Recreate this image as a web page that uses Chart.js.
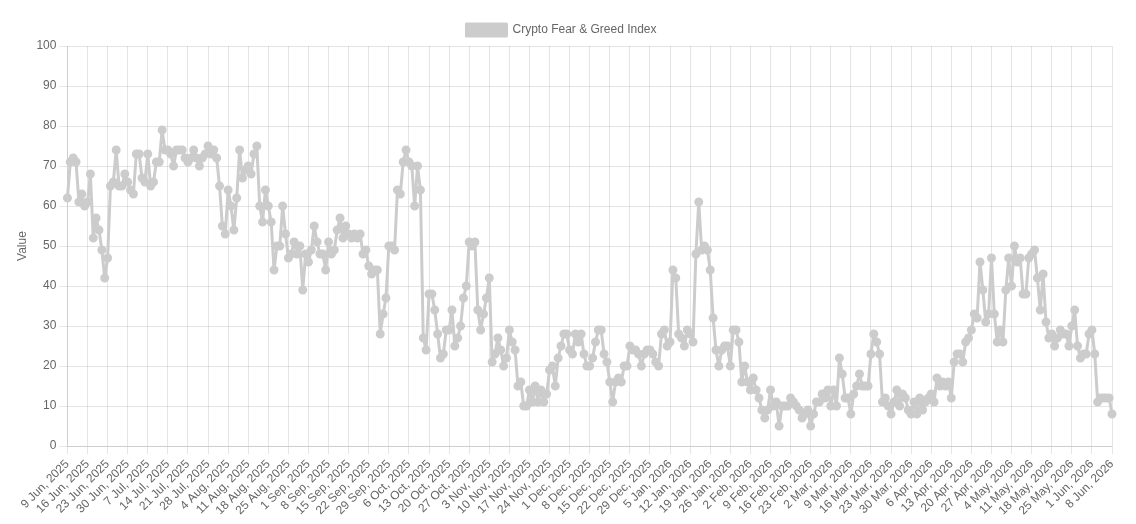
<!DOCTYPE html>
<html>
<head>
<meta charset="utf-8">
<script src="https://cdn.jsdelivr.net/npm/chart.js@4.4.0/dist/chart.umd.min.js"></script>
<style>
  html, body { margin: 0; padding: 0; background: #fff; }
  .chart-wrap { position: relative; width: 1136px; height: 524px; }
</style>
</head>
<body>
<div class="chart-wrap"><canvas id="chart"></canvas></div>
<script>
// daily readings, 9 Jun 2025 .. 8 Jun 2026
const startDate = new Date(2025, 5, 9);
const monthNames = ['Jan','Feb','Mar','Apr','May','Jun','Jul','Aug','Sep','Oct','Nov','Dec'];

const fearGreedValues = [
  62,71,72,71,61,63,60,61,68,52,57,54,49,42,47,65,66,74,65,65,68,66,64,63,73,73,67,66,73,65,66,71,71,79,74,74,
  73,70,74,74,74,72,71,72,74,72,70,72,73,75,73,74,72,65,55,53,64,60,54,62,74,67,69,70,68,73,75,60,56,64,60,56,44,
  50,50,60,53,47,48,51,48,50,39,48,46,49,55,51,48,48,44,51,48,49,54,57,52,55,53,52,53,52,53,48,49,45,43,44,44,
  28,33,37,50,50,49,64,63,71,74,71,70,60,70,64,27,24,38,38,34,28,22,23,29,29,34,25,27,30,37,40,51,50,51,34,29,33,
  37,42,21,23,27,24,20,22,29,26,24,15,16,10,10,14,11,15,11,14,11,13,19,20,15,22,25,28,28,24,23,28,26,28,23,20,20,
  22,26,29,29,23,21,16,11,16,17,16,20,20,25,24,24,23,20,23,24,24,23,21,20,28,29,25,26,44,42,28,27,25,29,28,26,48,
  61,49,50,49,44,32,24,20,24,25,25,20,29,29,26,16,20,16,14,17,14,12,9,7,9,14,10,11,5,10,10,10,12,11,10,9,7,
  8,9,5,8,11,11,13,12,14,10,14,10,22,18,12,12,8,13,15,18,15,15,15,23,28,26,23,11,12,10,8,11,14,10,13,
  12,9,8,11,8,12,9,11,12,13,11,17,15,16,15,16,12,21,23,23,21,26,27,29,33,32,46,39,31,33,47,33,26,29,26,39,47,
  40,50,46,47,38,38,47,48,49,42,34,43,31,27,28,25,27,29,28,28,25,30,34,25,22,23,23,28,29,23,11,12,12,12,12,8
];

const dayLabels = fearGreedValues.map((v, i) => {
  const d = new Date(startDate.getFullYear(), startDate.getMonth(), startDate.getDate() + i);
  return d.getDate() + ' ' + monthNames[d.getMonth()] + ', ' + d.getFullYear();
});

const yTicks = { min: 0, max: 100, step: 10 };

const grey = 'rgb(204, 204, 204)';

new Chart(document.getElementById('chart'), {
  type: 'line',
  data: {
    labels: dayLabels,
    datasets: [{
      label: 'Crypto Fear & Greed Index',
      data: fearGreedValues,
      borderColor: grey,
      backgroundColor: grey,
      borderWidth: 3,
      borderJoinStyle: 'round',
      pointRadius: 3,
      pointBackgroundColor: grey,
      pointBorderColor: grey,
      tension: 0
    }]
  },
  options: {
    responsive: true,
    maintainAspectRatio: false,
    animation: false,
    layout: { padding: { left: 11, top: 14, right: 24, bottom: 3 } },
    plugins: {
      legend: { display: true },
      tooltip: { enabled: false }
    },
    scales: {
      x: {
        ticks: {
          autoSkip: false,
          maxRotation: 45,
          minRotation: 45,
          callback: function (value, index) {
            return index % 7 === 0 ? this.getLabelForValue(value) : null;
          }
        }
      },
      y: {
        min: yTicks.min,
        max: yTicks.max,
        ticks: { stepSize: yTicks.step },
        title: { display: true, text: 'Value' }
      }
    }
  }
});
</script>
</body>
</html>
